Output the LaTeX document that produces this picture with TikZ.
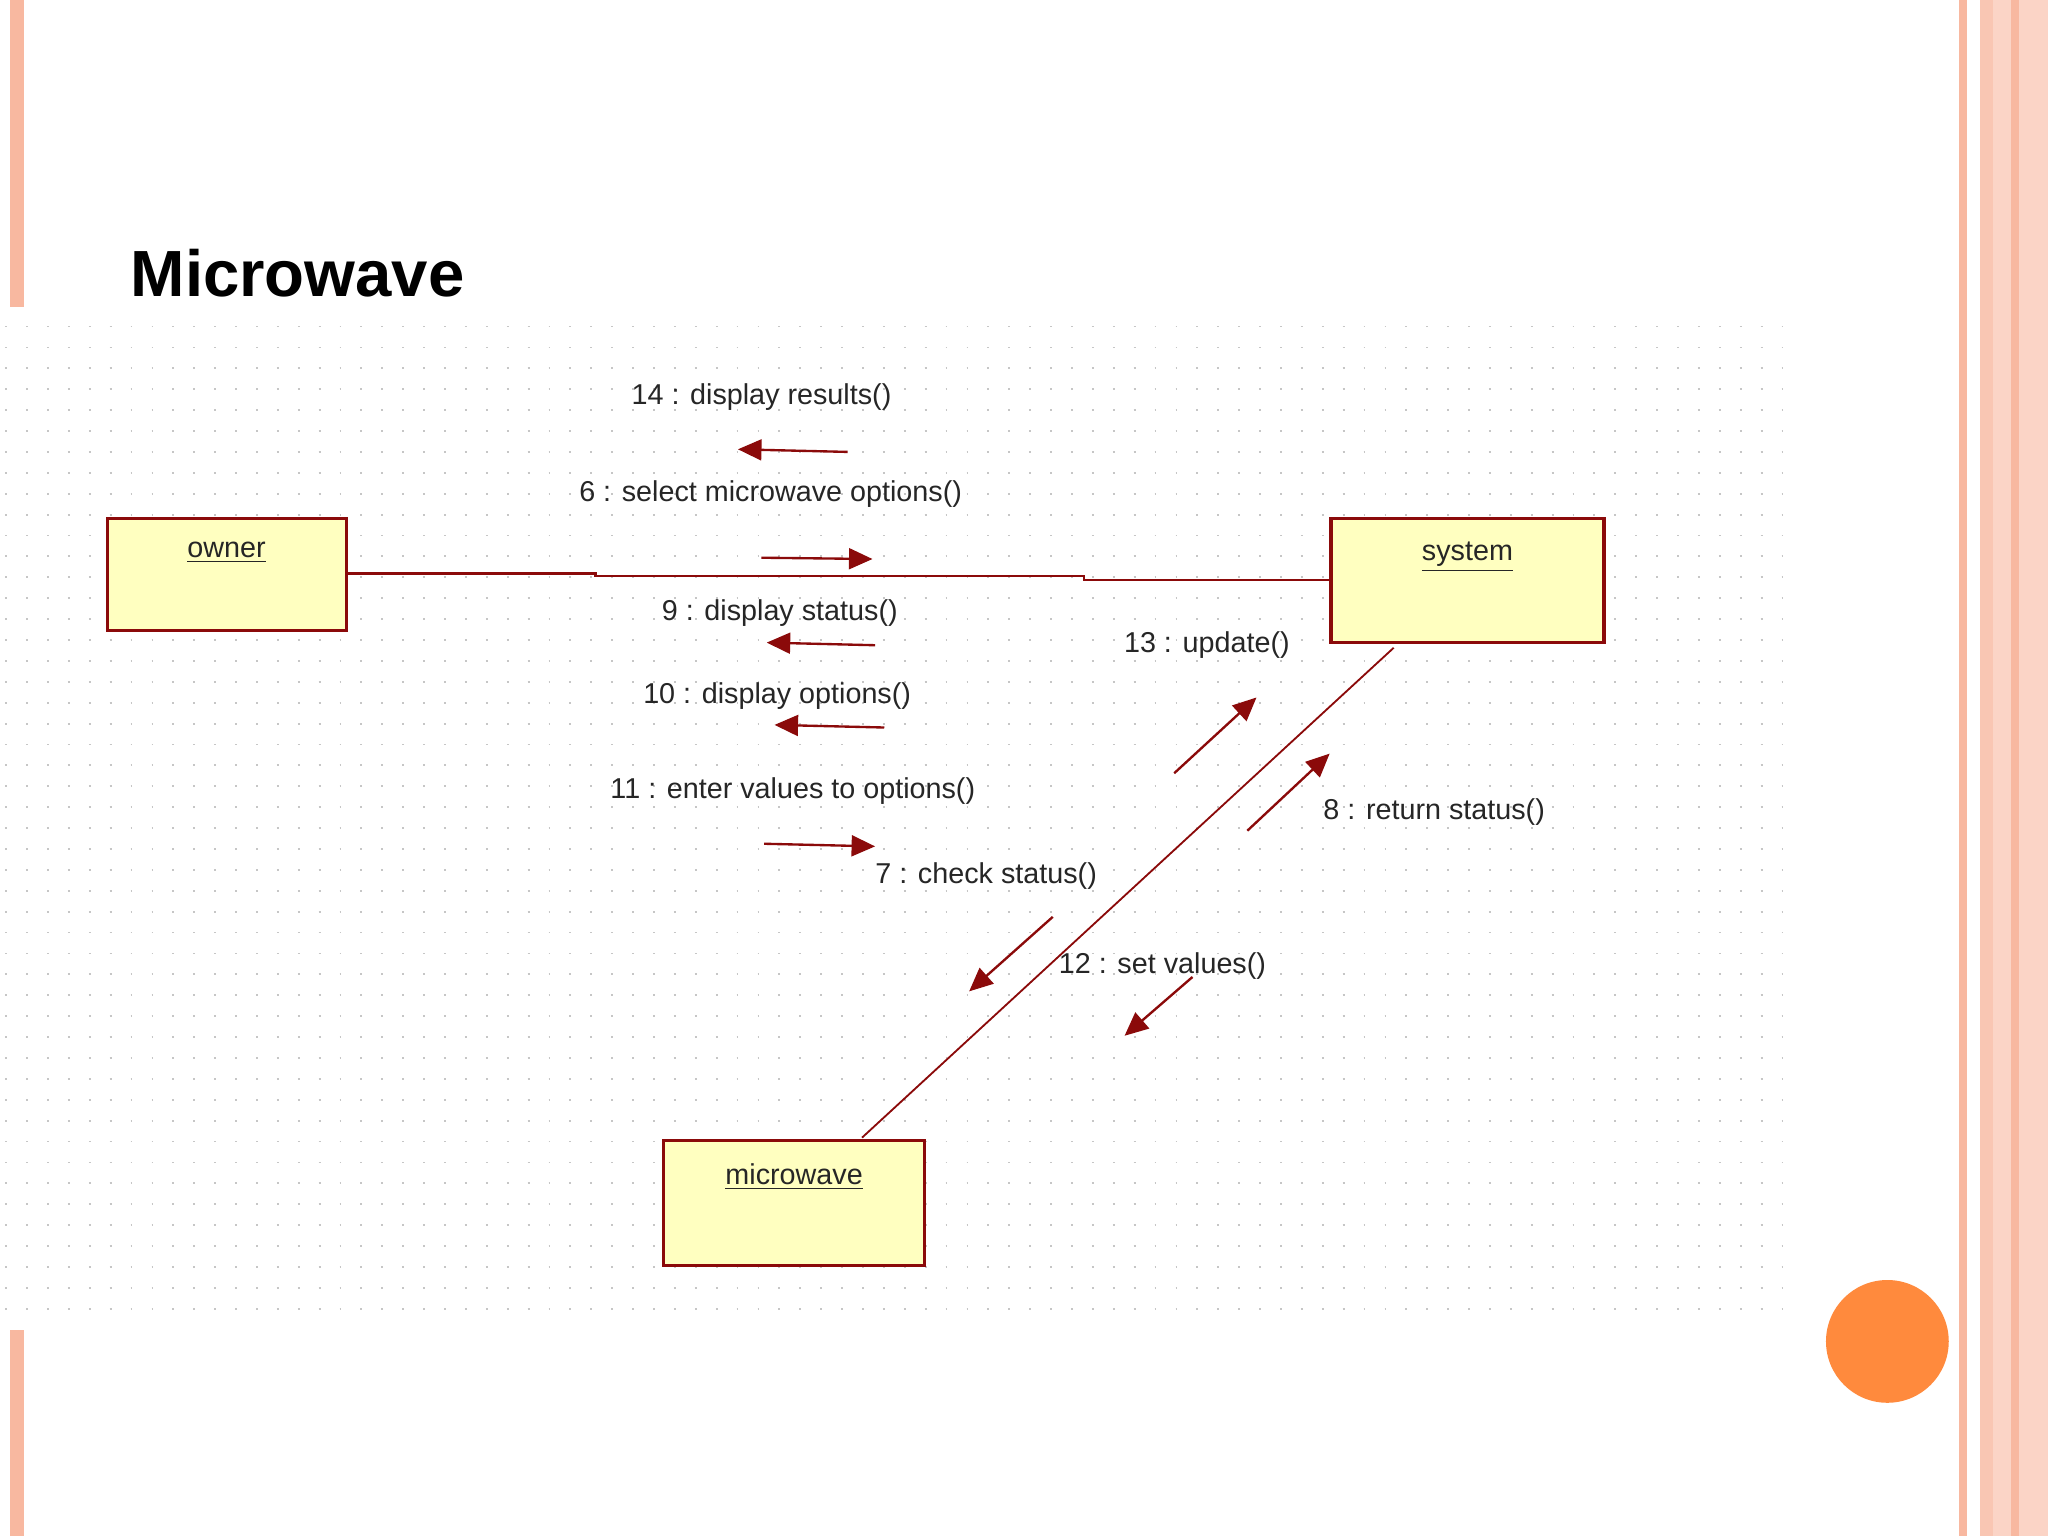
\documentclass[tikz,border=0pt]{standalone}
\usepackage{fontspec}
\setmainfont{Liberation Sans}
\usetikzlibrary{arrows.meta}
\definecolor{dred}{HTML}{8B0A0A}
\definecolor{boxfill}{HTML}{FFFFC0}
\definecolor{pinkbar}{HTML}{F8B8A0}
\definecolor{orng}{HTML}{FF8A3D}
\begin{document}
\begin{tikzpicture}[x=0.5pt,y=-0.5pt,
  obj/.style={draw=dred,line width=1.2pt,fill=boxfill,minimum width=#1,inner sep=0pt},
  lbl/.style={font=\fontsize{11}{13}\selectfont,text=black!85},
  msg/.style={dred,line width=0.9pt,-{Triangle[length=9pt,width=8pt]}},
  link/.style={dred,line width=0.9pt}]
\useasboundingbox (0,0) rectangle (1568,1176);
\fill[white] (0,0) rectangle (1568,1176);
% side bars
\fill[pinkbar] (8,0) rectangle (18,235);
\fill[pinkbar] (8,1018) rectangle (18,1176);
\fill[pinkbar] (1500,0) rectangle (1506,1176);
\fill[pinkbar!80] (1516,0) rectangle (1526,1176);
\fill[pinkbar!60] (1526,0) rectangle (1568,1176);
\fill[pinkbar] (1540,0) rectangle (1546,1176);
\fill[orng] (1445,1027) circle (47);
% grid
\foreach \r in {0,...,47}{
  \draw[gray!45,line width=0.7pt,dash pattern=on 0.7pt off 7.3pt] (4,250+16*\r) -- (1370,250+16*\r);
}
% title
\node[anchor=base west,font=\bfseries\fontsize{25}{30}\selectfont] (title) at (93,227) {Microwave};
% objects
\node[obj=91.5pt,minimum height=43pt] (owner) at (173.5,440) {};
\node[anchor=north,lbl] at (173.5,408) {\underline{owner}};
\node[obj=104.5pt,minimum height=47.5pt] (system) at (1123.5,444.5) {};
\node[anchor=north,lbl] at (1123.5,408) {\underline{system}};
\node[obj=100pt,minimum height=48pt] (microwave) at (608,921) {};
\node[anchor=north,lbl] at (608,884) {\underline{microwave}};
% links
\draw[link] (owner.east|-0,439) -- (456,439) -- (456,441) -- (830,441) -- (830,444) -- (system.west|-0,444);
\coordinate (mtop) at (660,871);
\coordinate (sbot) at (1067,496);
\draw[link,line width=0.7pt] (mtop) -- (sbot);
% messages
\coordinate (a14) at (649,346); \coordinate (b14) at (565,344);
\coordinate (a6) at (583,427); \coordinate (b6) at (668,428);
\coordinate (a9) at (670,494); \coordinate (b9) at (587,492);
\coordinate (a10) at (677,557); \coordinate (b10) at (593,555);
\coordinate (a11) at (585,646); \coordinate (b11) at (670,648);
\coordinate (a13) at (899,592); \coordinate (b13) at (962,534);
\coordinate (a8) at (955,636); \coordinate (b8) at (1018,577);
\coordinate (a7) at (806,702); \coordinate (b7) at (742,759);
\coordinate (a12) at (913,748); \coordinate (b12) at (861,793);
\foreach \m in {14,6,9,10,11,13,8,7,12}{\draw[msg] (a\m) -- (b\m);}
% labels
\node[lbl] at (583,304) {14 : display results()};
\node[lbl] at (590,378) {6 : select microwave options()};
\node[lbl] at (597,469) {9 : display status()};
\node[lbl] at (595,533) {10 : display options()};
\node[lbl] at (607,606) {11 : enter values to options()};
\node[lbl] at (924,494) {13 : update()};
\node[lbl] at (1098,622) {8 : return status()};
\node[lbl] at (755,671) {7 : check status()};
\node[lbl] at (890,740) {12 : set values()};
\end{tikzpicture}
\end{document}
